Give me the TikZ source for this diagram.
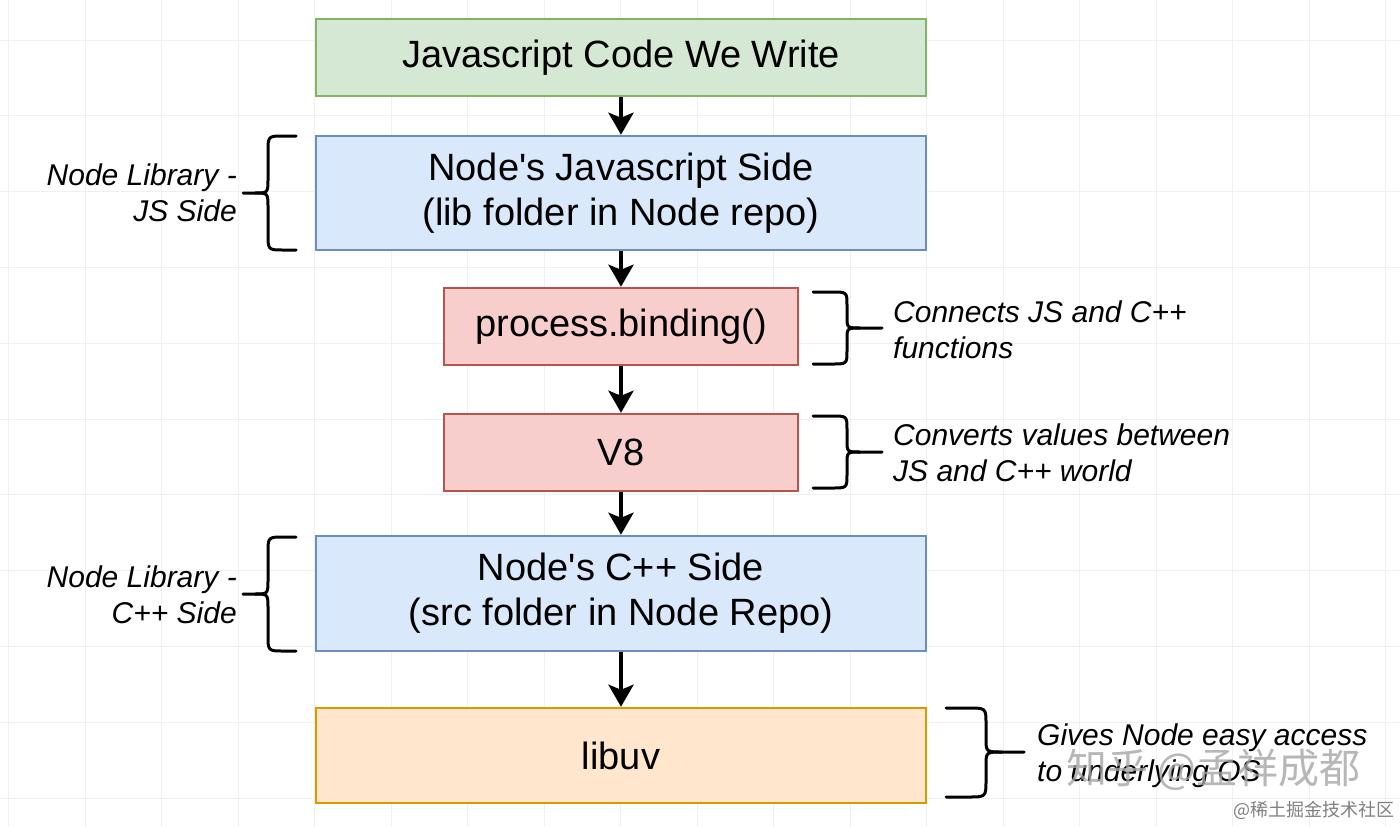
\documentclass[tikz,border=0pt]{standalone}
\usepackage{fontspec}
\setmainfont{Liberation Sans}
\newfontfamily\cjkfont{Noto Sans CJK SC}
\newcommand\sq{\XeTeXglyph\XeTeXglyphindex "quotesingle"\relax}
\usetikzlibrary{arrows.meta}
\definecolor{gfill}{HTML}{D5E8D4}\definecolor{gdraw}{HTML}{82B366}
\definecolor{bfill}{HTML}{DAE8FC}\definecolor{bdraw}{HTML}{6C8EBF}
\definecolor{rfill}{HTML}{F8CECC}\definecolor{rdraw}{HTML}{B85450}
\definecolor{ofill}{HTML}{FFE6CC}\definecolor{odraw}{HTML}{D79B00}
\definecolor{gridc}{HTML}{F0F0F0}
\tikzset{
  box/.style={draw, line width=2.5pt, align=center, inner sep=0pt,
    font=\fontsize{38}{45}\selectfont},
  green box/.style={box, fill=gfill, draw=gdraw, minimum width=610pt, minimum height=77pt},
  blue box/.style={box, fill=bfill, draw=bdraw, minimum width=610pt, minimum height=114pt},
  red box/.style={box, fill=rfill, draw=rdraw, minimum width=354pt, minimum height=77pt},
  orange box/.style={box, fill=ofill, draw=odraw, minimum width=610pt, minimum height=95pt},
  arr/.style={line width=4pt, -{Stealth[width=25pt,length=22pt,inset=5pt]}},
  brace/.style={line width=3pt, line cap=round, line join=round},
  note/.style={font=\fontsize{30}{36}\selectfont\itshape, inner sep=0pt},
  gridline/.style={draw=gridc, line width=1pt},
  mark1/.style={font=\cjkfont\fontsize{41}{41}\selectfont, text=black!35, opacity=0.8, inner sep=0pt},
  mark2/.style={font=\cjkfont\fontsize{18}{18}\selectfont, text=black!50, inner sep=0pt}
}
\begin{document}
\begin{tikzpicture}[x=1pt,y=-1pt]
\useasboundingbox (0,0) rectangle (1400,827);
\fill[white] (0,0) rectangle (1400,827);
% grid
\foreach \i in {0,...,18} { \draw[gridline] (8.5+76.5*\i,0) -- (8.5+76.5*\i,827); }
\foreach \j in {0,...,10} { \draw[gridline] (0,40+75.8*\j) -- (1400,40+75.8*\j); }

% boxes
\node[green box] (js) at (621,57.5) {Javascript Code We Write};
\node[blue box] (njs) at (621,193) {Node\sq s Javascript Side\\(lib folder in Node repo)};
\node[red box] (pb) at (621,326.5) {process.binding()};
\node[red box] (v8) at (621,452.5) {V8};
\node[blue box, minimum height=115pt] (ncpp) at (621,593.5) {Node\sq s C++ Side\\(src folder in Node Repo)};
\node[orange box] (uv) at (621,755.5) {libuv};

% arrows
\draw[arr] (js) -- (njs);
\draw[arr] (njs) -- (pb);
\draw[arr] (pb) -- (v8);
\draw[arr] (v8) -- (ncpp);
\draw[arr] (ncpp) -- (uv);

% left brace 1
\draw[brace] (296,136) -- (284,136) .. controls (268,136) .. (268,152) -- (268,178)
  .. controls (268,193) .. (255,193) -- (243,193);
\draw[brace] (255,193) .. controls (268,193) .. (268,208) -- (268,234)
  .. controls (268,250) .. (284,250) -- (296,250);
\node[note, anchor=east, align=right] (l1) at (237,193) {Node Library -\\JS Side};

% left brace 2
\draw[brace] (296,537) -- (284,537) .. controls (268,537) .. (268,553) -- (268,579)
  .. controls (268,594) .. (255,594) -- (243,594);
\draw[brace] (255,594) .. controls (268,594) .. (268,609) -- (268,635)
  .. controls (268,651) .. (284,651) -- (296,651);
\node[note, anchor=east, align=right] (l2) at (237,595) {Node Library -\\C++ Side};

% right brace process.binding
\draw[brace] (813,292) -- (832,292) .. controls (847,292) .. (847,306) -- (847,316)
  .. controls (847,328) .. (860,328) -- (882,328);
\draw[brace] (860,328) .. controls (847,328) .. (847,340) -- (847,350)
  .. controls (847,364) .. (832,364) -- (813,364);
\node[note, anchor=west, align=left] (r1) at (893,329.5) {Connects JS and C++\\functions};

% right brace V8
\draw[brace] (813,416) -- (832,416) .. controls (847,416) .. (847,430) -- (847,440)
  .. controls (847,452) .. (860,452) -- (882,452);
\draw[brace] (860,452) .. controls (847,452) .. (847,464) -- (847,474)
  .. controls (847,488) .. (832,488) -- (813,488);
\node[note, anchor=west, align=left] (r2) at (893,452.5) {Converts values between\\JS and C++ world};

% right brace libuv
\draw[brace] (946,708) -- (968,708) .. controls (986,708) .. (986,724) -- (986,738)
  .. controls (986,752) .. (1002,752) -- (1024,752);
\draw[brace] (1002,752) .. controls (986,752) .. (986,766) -- (986,780)
  .. controls (986,797) .. (968,797) -- (946,797);
\node[note, anchor=west, align=left] (r3) at (1037,755.5) {Gives Node easy access\\to underlying OS};

% watermarks
\node[mark1, anchor=west] (wm1) at (1066,770) {知乎 @孟祥成都};
\node[mark2, anchor=east] (wm2) at (1395,810) {@稀土掘金技术社区};
\end{tikzpicture}
\end{document}
